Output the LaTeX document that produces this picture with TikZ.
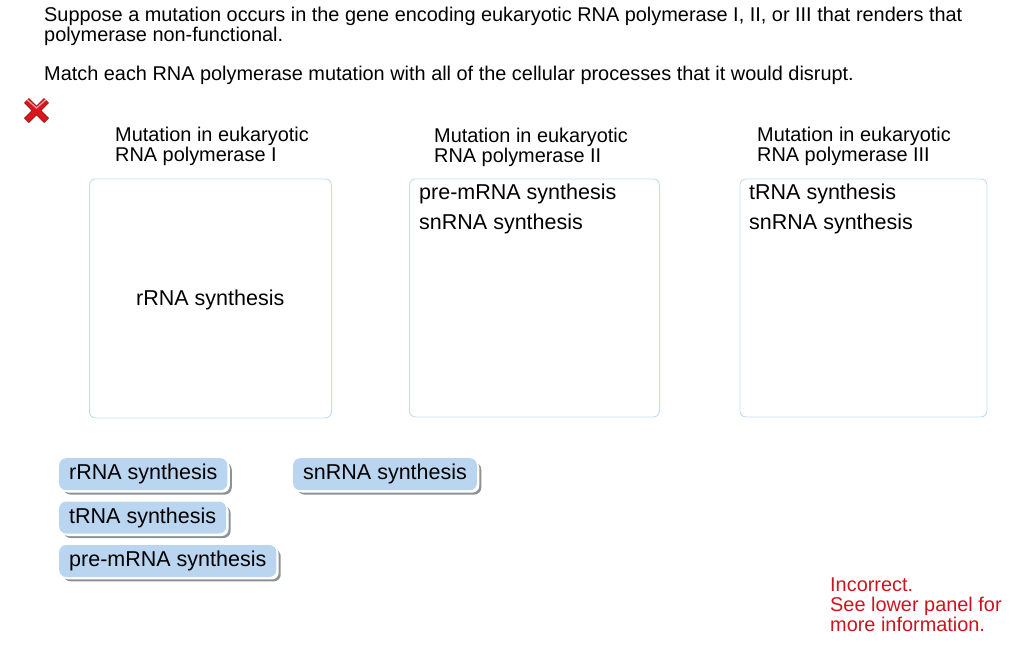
\documentclass[tikz,border=0pt]{standalone}
\usepackage{fontspec}
\setmainfont{Liberation Sans}
\usetikzlibrary{positioning, shadows}
\definecolor{boxline}{RGB}{190,220,243}
\definecolor{chipfill}{RGB}{185,213,240}
\definecolor{chipedge}{RGB}{140,146,150}
\definecolor{wrongred}{RGB}{204,20,32}
\definecolor{crossred}{RGB}{214,24,30}
\begin{document}
\begin{tikzpicture}[x=1pt, y=-1pt, node distance=10.5pt, line/.style={anchor=west, inner sep=0pt, font=\fontsize{19.9}{20}\selectfont},
	head/.style={anchor=north west, inner sep=0pt, align=left, font=\fontsize{19.9}{20}\selectfont},
	placed/.style={anchor=west, inner sep=0pt, font=\fontsize{21.5}{21}\selectfont},
	dropbox/.style={draw=boxline, rounded corners=6pt, line width=0.9pt, anchor=north west, inner sep=0pt},
	chip/.style={fill=chipfill, rounded corners=7pt, anchor=north west, inner xsep=10pt, inner ysep=0pt, minimum height=32pt, font=\fontsize{21.5}{21}\selectfont,
		copy shadow={shadow xshift=4.4pt, shadow yshift=-4.4pt, fill=chipedge, draw=none},
		copy shadow={shadow xshift=2.4pt, shadow yshift=-2.4pt, fill=white, draw=none}}]
	\useasboundingbox (0,0) rectangle (1024,651);

	%question text
	\node[head] (intro) at (44,7) {Suppose a mutation occurs in the gene encoding eukaryotic RNA polymerase I, II, or III that renders that\\polymerase non-functional.};
	\node[line] (ask) at (44,75) {Match each RNA polymerase mutation with all of the cellular processes that it would disrupt.};

	%red cross
	\draw[crossred!65!black, line width=7pt] (26.5,100.5) -- (46.5,120.5) (46.5,100.5) -- (26.5,120.5);
	\draw[crossred, line width=5.5pt] (26.5,100.5) -- (46.5,120.5) (46.5,100.5) -- (26.5,120.5);
	\draw[white, opacity=.55, line width=1.3pt] (27,99.5) -- (36.5,108) -- (46,99.5);

	%column titles
	\node[head] (titleA) at (115,127) {Mutation in eukaryotic\\RNA polymerase I};
	\node[head] (titleB) at (434,128) {Mutation in eukaryotic\\RNA polymerase II};
	\node[head] (titleC) at (757,127) {Mutation in eukaryotic\\RNA polymerase III};

	%drop targets
	\node[dropbox, minimum width=242pt, minimum height=239pt] (boxA) at (89,178.5) {};
	\node[dropbox, minimum width=250pt, minimum height=238pt] (boxB) at (409,178.5) {};
	\node[dropbox, minimum width=247pt, minimum height=238pt] (boxC) at (739.5,178.5) {};

	%placed labels
	\node[placed] (placedA) at (136,299.5) {rRNA synthesis};
	\node[placed] (placedB1) at (419,194) {pre-mRNA synthesis};
	\node[placed] (placedB2) at (419,224) {snRNA synthesis};
	\node[placed] (placedC1) at (749,194) {tRNA synthesis};
	\node[placed] (placedC2) at (749,224) {snRNA synthesis};

	%answer chips
	\node[chip] (chipR) at (59,458) {rRNA synthesis};
	\node[chip] (chipSn) at (293,458) {snRNA synthesis};
	\node[chip] (chipT) [below=11pt of chipR.south west, anchor=north west] {tRNA synthesis};
	\node[chip] (chipPre) [below=11pt of chipT.south west, anchor=north west] {pre-mRNA synthesis};

	%feedback
	\node[head, text=wrongred] (verdict) at (830,577.5) {Incorrect.\\See lower panel for\\more information.};
\end{tikzpicture}
\end{document}
